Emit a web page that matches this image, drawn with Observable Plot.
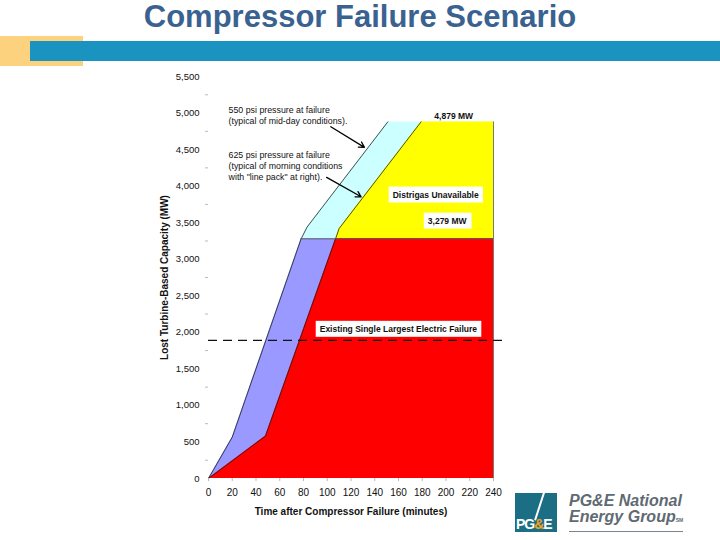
<!DOCTYPE html>
<html>
<head>
<meta charset="utf-8">
<script src="https://cdn.jsdelivr.net/npm/d3@7"></script>
<script src="https://cdn.jsdelivr.net/npm/@observablehq/plot@0.6"></script>
<style>
  html, body { margin: 0; padding: 0; background: #fff; }
  #page { position: relative; width: 720px; height: 540px; overflow: hidden; font-family: "Liberation Sans", Arial, sans-serif; }
  #header { position: relative; width: 720px; height: 66px; }
  #title { position: absolute; left: 0; width: 720px; top: 0px; line-height: 33px; text-align: center; font-size: 31px; font-weight: bold; color: #3a6290; }
  #orange { position: absolute; left: 0; top: 36px; width: 83px; height: 30px; background: #fcd27f; }
  #blue { position: absolute; left: 30px; top: 41px; width: 690px; height: 20px; background: #1b93c1; }
  #logo { position: absolute; left: 515px; top: 493px; width: 42px; height: 39px; background: #1b6e84; overflow: hidden; }
  #logo .pge { position: absolute; left: 1px; bottom: 0px; font-size: 14px; font-weight: bold; color: #fff; letter-spacing: -1px; }
  #logo .amp { color: #f4a21c; }
  #logo .slash { position: absolute; left: 24px; top: -4px; width: 2px; height: 32px; background: #fff; transform: rotate(18deg); }
  #ngtext { position: absolute; left: 569px; top: 493px; font-size: 16px; font-weight: bold; font-style: italic; color: #5f6a72; line-height: 16px; }
  #ngline { position: absolute; left: 569px; top: 531px; width: 114px; height: 1px; background: #7a858c; }
</style>
</head>
<body>
<div id="page">
  <div id="header">
    <div id="title">Compressor Failure Scenario</div>
    <div id="orange"></div>
    <div id="blue"></div>
  </div>
  <div id="chart"></div>
  <div id="logo"><div class="slash"></div><div class="pge">PG<span class="amp">&amp;</span>E</div></div>
  <div id="ngtext">PG&amp;E National<br>Energy Group<span style="font-size:5px;font-style:normal">SM</span></div>
  <div id="ngline"></div>
</div>
<script>
// ---- data ----
const time550 = [0, 20, 78, 83, 151, 240];        // minutes, 550 psi case
const cap550  = [0, 565, 3279, 3440, 4879, 4879]; // MW lost
const time625 = [0, 48, 107, 110, 179, 240];       // minutes, 625 psi case
const cap625  = [0, 580, 3279, 3420, 4879, 4879];  // MW lost
const distrigasCap = 4879;
const withDistrigasCap = 3279;
const largestFailure = 1890;
const xTicks = [0, 20, 40, 60, 80, 100, 120, 140, 160, 180, 200, 220, 240];
const yTicks = [0, 500, 1000, 1500, 2000, 2500, 3000, 3500, 4000, 4500, 5000, 5500];
const yMinorTicks = [250, 750, 1250, 1750, 2250, 2750, 3250, 3750, 4250, 4750, 5250];
const boxedLabels = ["Distrigas Unavailable", "3,279 MW", "Existing Single Largest Electric Failure"];

const s550 = time550.map((t, i) => ({t, v: cap550[i]}));
const s625 = time625.map((t, i) => ({t, v: cap625[i]}));
const capAt = (s, c) => s.filter(d => d.v <= c).concat([{t: 240, v: c}]);
const low550 = capAt(s550, withDistrigasCap);
const low625 = capAt(s625, withDistrigasCap);
const line550 = s550.filter(d => d.v < distrigasCap || d.t === time550[4]);
const line625 = s625.filter(d => d.v < distrigasCap || d.t === time625[4]);

const chart = Plot.plot({
  width: 720,
  height: 474,
  marginLeft: 208,
  marginRight: 227,
  marginTop: 10,
  marginBottom: 62,
  style: {fontFamily: "'Liberation Sans', Arial, sans-serif", fontSize: "9.5px", color: "#111", background: "#fff"},
  x: {type: "linear", domain: [0, 240]},
  y: {type: "linear", domain: [0, 5500]},
  marks: [
    Plot.areaY(s550, {x: "t", y: "v", fill: "#ccffff"}),
    Plot.areaY(s625, {x: "t", y: "v", fill: "#ffff00"}),
    Plot.areaY(low550, {x: "t", y: "v", fill: "#9999ff"}),
    Plot.areaY(low625, {x: "t", y: "v", fill: "#ff0000"}),
    Plot.lineY(line550, {x: "t", y: "v", stroke: "#222", strokeWidth: 0.8}),
    Plot.lineY(line625, {x: "t", y: "v", stroke: "#222", strokeWidth: 0.8}),
    Plot.ruleY([withDistrigasCap], {x1: time550[2], x2: 240, stroke: "#555", strokeWidth: 0.9}),
    Plot.ruleX([240], {y1: 0, y2: distrigasCap, stroke: "#555", strokeWidth: 0.8}),
    Plot.ruleY([largestFailure], {x1: 0, x2: 248, stroke: "#111", strokeWidth: 1.1, strokeDasharray: "9,6", clip: false}),
    Plot.axisX({ticks: xTicks, tickSize: 3, stroke: "#bbb", tickPadding: 7, tickFormat: d => d, fontSize: 10,
      label: "Time after Compressor Failure (minutes)", labelAnchor: "center", labelOffset: 36, labelArrow: "none"}),
    Plot.axisY({ticks: yTicks, tickSize: 0, tickPadding: 9, tickFormat: d3.format(","),
      label: "Lost Turbine-Based Capacity (MW)", labelAnchor: "center", labelOffset: 48, labelArrow: "none"}),
    Plot.axisY({ticks: yMinorTicks, tickSize: 3, stroke: "#bbb", tickFormat: () => "", label: null}),
    Plot.text(["550 psi pressure at failure\n(typical of mid-day conditions)."],
      {x: 16.9, y: 4967, text: d => d, textAnchor: "start", lineAnchor: "middle", fontSize: 8.8, lineHeight: 1.25, fill: "#111"}),
    Plot.text(["625 psi pressure at failure\n(typical of morning conditions\nwith \"line pack\" at right)."],
      {x: 16.9, y: 4283, text: d => d, textAnchor: "start", lineAnchor: "middle", fontSize: 8.8, lineHeight: 1.25, fill: "#111"}),
    Plot.arrow([0], {x1: 103, y1: 4813, x2: 131.3, y2: 4531, stroke: "#000", strokeWidth: 1.3, headLength: 7}),
    Plot.arrow([0], {x1: 99.5, y1: 4120, x2: 128.5, y2: 3854, stroke: "#000", strokeWidth: 1.3, headLength: 7}),
    Plot.text(["4,879 MW"], {x: 206.5, y: 4950, text: d => d, fontWeight: "bold", fontSize: 8.5, fill: "#111"}),
    Plot.text([boxedLabels[0]], {x: 191.3, y: 3881, text: d => d, fontWeight: "bold", fontSize: 8.5, fill: "#111"}),
    Plot.text([boxedLabels[1]], {x: 201, y: 3524, text: d => d, fontWeight: "bold", fontSize: 8.5, fill: "#111"}),
    Plot.text([boxedLabels[2]], {x: 159.9, y: 2044, text: d => d, fontWeight: "bold", fontSize: 8.5, fill: "#111"})
  ]
});
document.getElementById("chart").appendChild(chart);

// white boxes behind boxed labels
d3.select(chart).selectAll("text").each(function() {
  if (!boxedLabels.includes(this.textContent)) return;
  const b = this.getBBox();
  const pad = {x: 4, y: 3};
  const tr = this.getAttribute("transform");
  const r = document.createElementNS("http://www.w3.org/2000/svg", "rect");
  r.setAttribute("x", b.x - pad.x); r.setAttribute("y", b.y - pad.y);
  r.setAttribute("width", b.width + 2 * pad.x); r.setAttribute("height", b.height + 2 * pad.y);
  r.setAttribute("fill", "#fff");
  if (tr) r.setAttribute("transform", tr);
  this.parentNode.insertBefore(r, this);
});
d3.select(chart).selectAll("[aria-label='y-axis label'] text, [aria-label='x-axis label'] text")
  .attr("font-weight", "bold").attr("font-size", "10px");
</script>
</body>
</html>
